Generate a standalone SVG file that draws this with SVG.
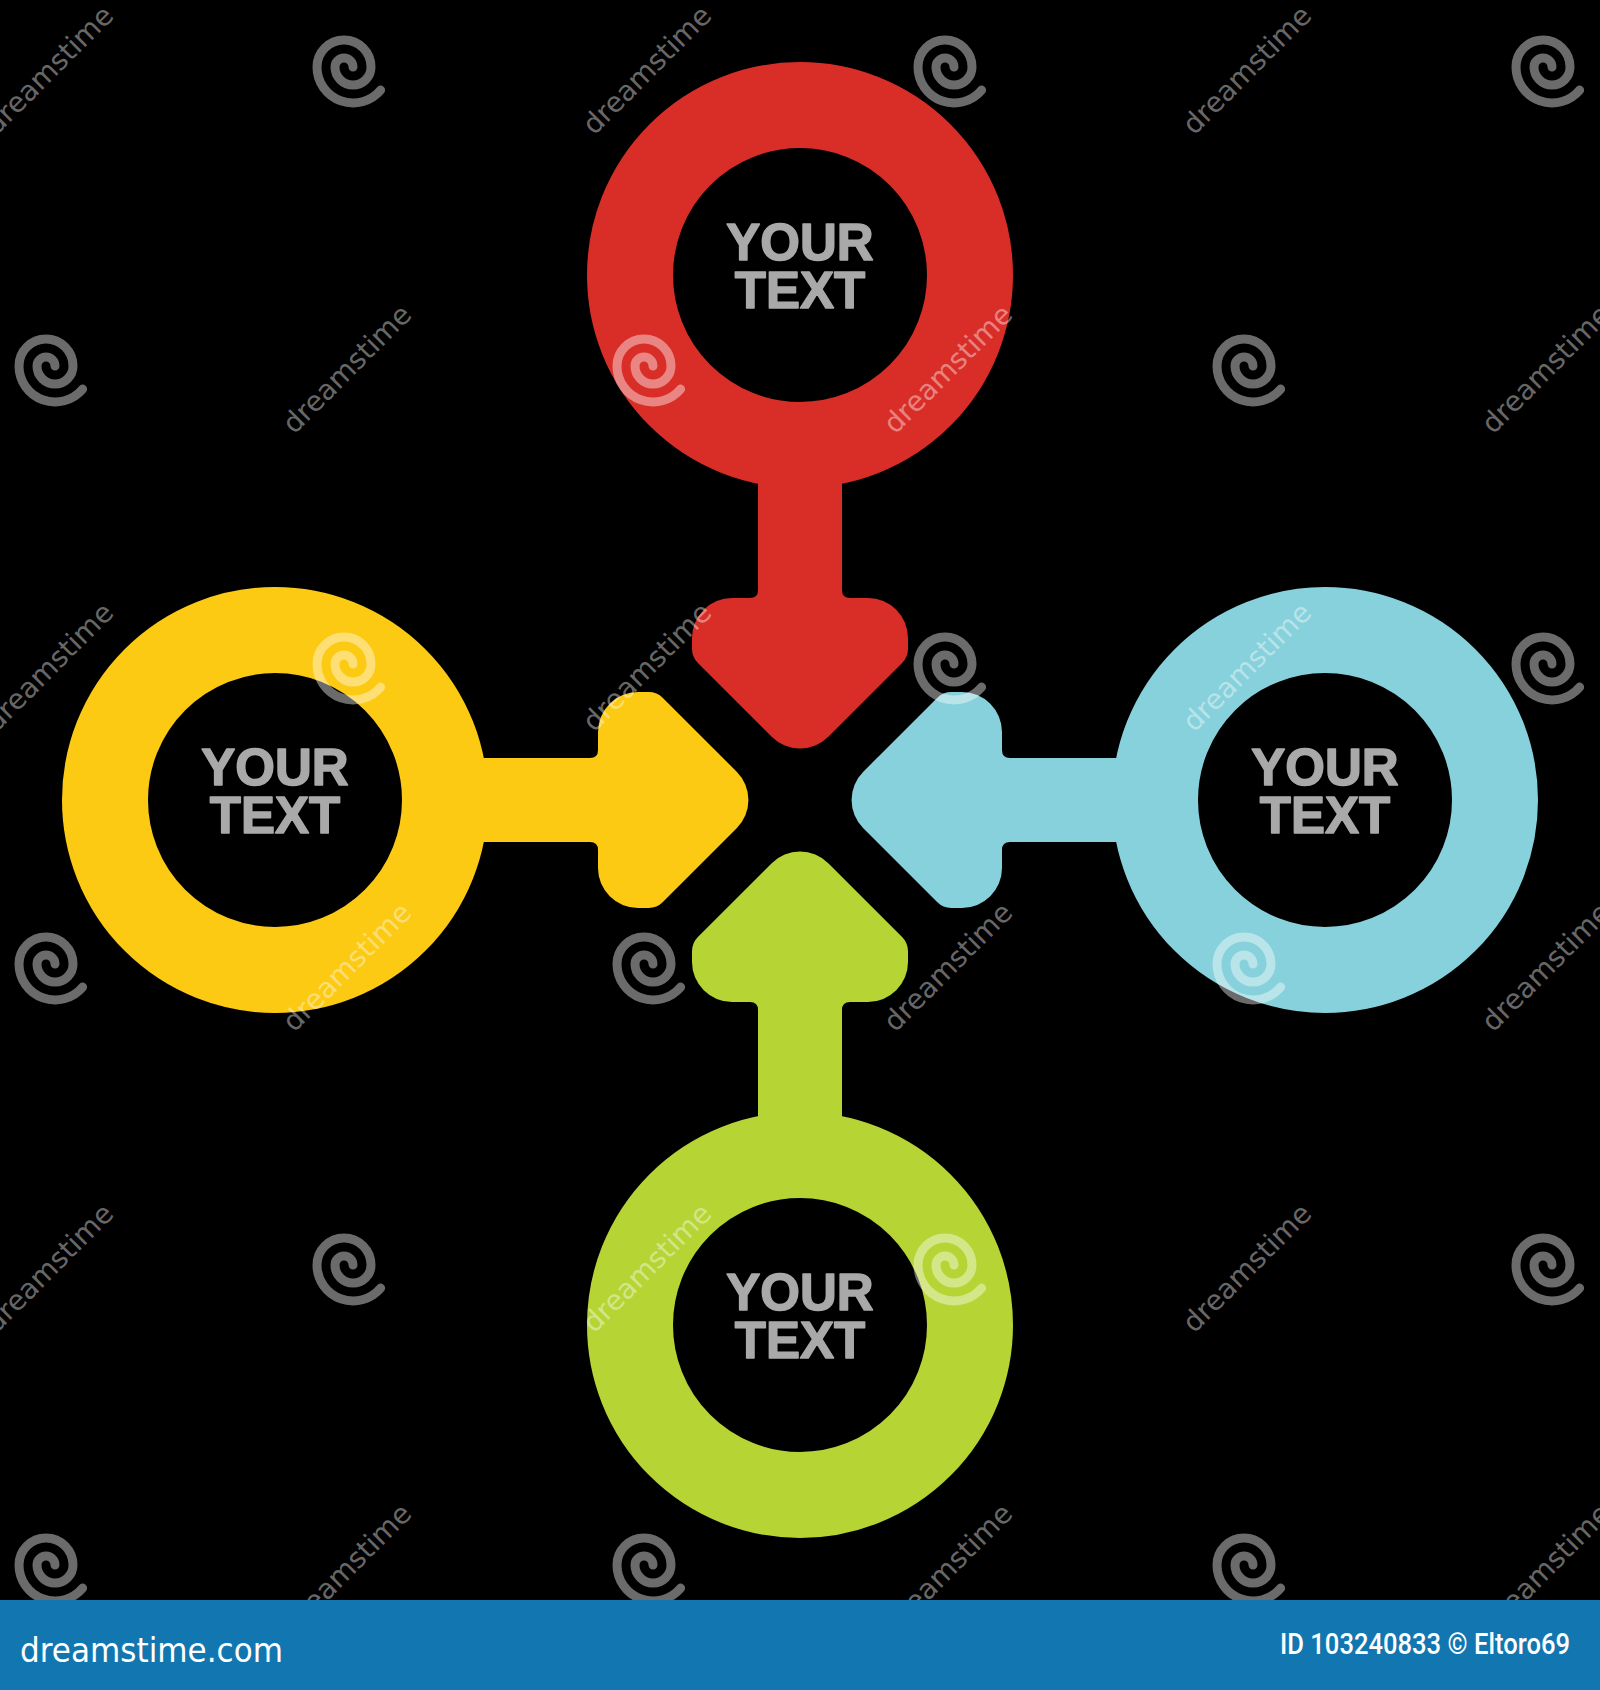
<svg xmlns="http://www.w3.org/2000/svg" xmlns:xlink="http://www.w3.org/1999/xlink" width="1600" height="1690" viewBox="0 0 1600 1690">
<style>
.ring{fill:none;stroke-width:86}
.lbl{font-family:"Liberation Sans",Arial,sans-serif;font-weight:bold;font-size:51px;fill:#a9a9a9;stroke:#a9a9a9;stroke-width:1.5;stroke-linejoin:round;text-anchor:middle}
.wm{font-family:"DejaVu Sans","Liberation Sans",sans-serif;font-size:28px;fill:#ffffff;fill-opacity:0.42;text-anchor:middle}
.sp{fill:none;stroke:#ffffff;stroke-opacity:0.42;stroke-width:9;stroke-linecap:round}
.foot1{font-family:"DejaVu Sans","Liberation Sans",sans-serif;font-size:34px;fill:#ffffff}
.foot2{font-family:Roboto,"Liberation Sans",sans-serif;font-weight:500;font-size:29px;fill:#ffffff}
</style>
<defs>
<path id="arrow" d="M -42,-300 L -42,-175 Q -42,-167 -50,-167 L -68,-167 A 40 40 0 0 0 -108,-127 L -108,-116.3 A 20 20 0 0 0 -102.1,-102.1 L -28.28,-28.28 A 40 40 0 0 0 28.28,-28.28 L 102.1,-102.1 A 20 20 0 0 0 108,-116.3 L 108,-127 A 40 40 0 0 0 68,-167 L 50,-167 Q 42,-167 42,-175 L 42,-300 Z"/>
<path id="spiral" class="sp" transform="translate(0,-4)" d="M 5,0 A 9 9 0 0 0 -13,0 A 18 18 0 0 0 23,0 A 27 27 0 0 0 -31,0 A 36 36 0 0 0 32.6,23.1"/>
</defs>
<rect x="0" y="0" width="1600" height="1690" fill="#000000"/>

<g id="connectors">
<use xlink:href="#arrow" href="#arrow" fill="#d92e28" transform="translate(800,765)"/>
<use xlink:href="#arrow" href="#arrow" fill="#fcc913" transform="translate(765,800) rotate(-90)"/>
<use xlink:href="#arrow" href="#arrow" fill="#86d1db" transform="translate(835,800) rotate(90)"/>
<use xlink:href="#arrow" href="#arrow" fill="#b7d435" transform="translate(800,835) rotate(180)"/>
</g>

<g id="node-top">
<circle class="ring" cx="800" cy="275" r="170" stroke="#d92e28"/>
<text class="lbl" x="800" y="260">YOUR</text>
<text class="lbl" x="800" y="308">TEXT</text>
</g>
<g id="node-left">
<circle class="ring" cx="275" cy="800" r="170" stroke="#fcc913"/>
<text class="lbl" x="275" y="785">YOUR</text>
<text class="lbl" x="275" y="833">TEXT</text>
</g>
<g id="node-right">
<circle class="ring" cx="1325" cy="800" r="170" stroke="#86d1db"/>
<text class="lbl" x="1325" y="785">YOUR</text>
<text class="lbl" x="1325" y="833">TEXT</text>
</g>
<g id="node-bottom">
<circle class="ring" cx="800" cy="1325" r="170" stroke="#b7d435"/>
<text class="lbl" x="800" y="1310">YOUR</text>
<text class="lbl" x="800" y="1358">TEXT</text>
</g>

<g id="watermark">
<use href="#spiral" xlink:href="#spiral" x="348" y="71"/>
<use href="#spiral" xlink:href="#spiral" x="949" y="71"/>
<use href="#spiral" xlink:href="#spiral" x="1547" y="71"/>
<use href="#spiral" xlink:href="#spiral" x="50" y="370"/>
<use href="#spiral" xlink:href="#spiral" x="648" y="370"/>
<use href="#spiral" xlink:href="#spiral" x="1248" y="370"/>
<use href="#spiral" xlink:href="#spiral" x="348" y="668"/>
<use href="#spiral" xlink:href="#spiral" x="949" y="668"/>
<use href="#spiral" xlink:href="#spiral" x="1547" y="668"/>
<use href="#spiral" xlink:href="#spiral" x="50" y="968"/>
<use href="#spiral" xlink:href="#spiral" x="648" y="968"/>
<use href="#spiral" xlink:href="#spiral" x="1248" y="968"/>
<use href="#spiral" xlink:href="#spiral" x="348" y="1269"/>
<use href="#spiral" xlink:href="#spiral" x="949" y="1269"/>
<use href="#spiral" xlink:href="#spiral" x="1547" y="1269"/>
<use href="#spiral" xlink:href="#spiral" x="50" y="1569"/>
<use href="#spiral" xlink:href="#spiral" x="648" y="1569"/>
<use href="#spiral" xlink:href="#spiral" x="1248" y="1569"/>
<text class="wm" transform="translate(50,71) rotate(-45)" y="8" textLength="168" lengthAdjust="spacingAndGlyphs">dreamstime</text>
<text class="wm" transform="translate(648,71) rotate(-45)" y="8" textLength="168" lengthAdjust="spacingAndGlyphs">dreamstime</text>
<text class="wm" transform="translate(1248,71) rotate(-45)" y="8" textLength="168" lengthAdjust="spacingAndGlyphs">dreamstime</text>
<text class="wm" transform="translate(348,370) rotate(-45)" y="8" textLength="168" lengthAdjust="spacingAndGlyphs">dreamstime</text>
<text class="wm" transform="translate(949,370) rotate(-45)" y="8" textLength="168" lengthAdjust="spacingAndGlyphs">dreamstime</text>
<text class="wm" transform="translate(1547,370) rotate(-45)" y="8" textLength="168" lengthAdjust="spacingAndGlyphs">dreamstime</text>
<text class="wm" transform="translate(50,668) rotate(-45)" y="8" textLength="168" lengthAdjust="spacingAndGlyphs">dreamstime</text>
<text class="wm" transform="translate(648,668) rotate(-45)" y="8" textLength="168" lengthAdjust="spacingAndGlyphs">dreamstime</text>
<text class="wm" transform="translate(1248,668) rotate(-45)" y="8" textLength="168" lengthAdjust="spacingAndGlyphs">dreamstime</text>
<text class="wm" transform="translate(348,968) rotate(-45)" y="8" textLength="168" lengthAdjust="spacingAndGlyphs">dreamstime</text>
<text class="wm" transform="translate(949,968) rotate(-45)" y="8" textLength="168" lengthAdjust="spacingAndGlyphs">dreamstime</text>
<text class="wm" transform="translate(1547,968) rotate(-45)" y="8" textLength="168" lengthAdjust="spacingAndGlyphs">dreamstime</text>
<text class="wm" transform="translate(50,1269) rotate(-45)" y="8" textLength="168" lengthAdjust="spacingAndGlyphs">dreamstime</text>
<text class="wm" transform="translate(648,1269) rotate(-45)" y="8" textLength="168" lengthAdjust="spacingAndGlyphs">dreamstime</text>
<text class="wm" transform="translate(1248,1269) rotate(-45)" y="8" textLength="168" lengthAdjust="spacingAndGlyphs">dreamstime</text>
<text class="wm" transform="translate(348,1569) rotate(-45)" y="8" textLength="168" lengthAdjust="spacingAndGlyphs">dreamstime</text>
<text class="wm" transform="translate(949,1569) rotate(-45)" y="8" textLength="168" lengthAdjust="spacingAndGlyphs">dreamstime</text>
<text class="wm" transform="translate(1547,1569) rotate(-45)" y="8" textLength="168" lengthAdjust="spacingAndGlyphs">dreamstime</text>
</g>

<g id="footer">
<rect x="0" y="1600" width="1600" height="90" fill="#1277b0"/>
<text class="foot1" x="20" y="1662" textLength="263" lengthAdjust="spacingAndGlyphs">dreamstime.com</text>
<text class="foot2" x="1280" y="1654" textLength="290" lengthAdjust="spacingAndGlyphs">ID 103240833 © Eltoro69</text>
</g>
</svg>
